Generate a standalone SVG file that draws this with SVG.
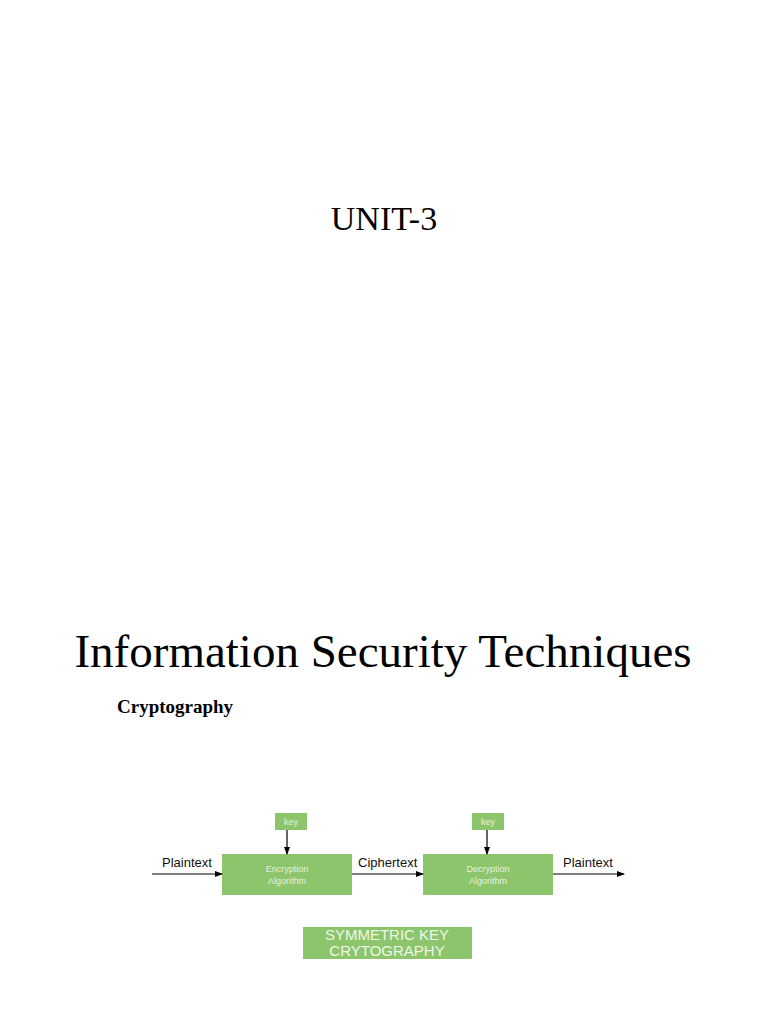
<svg xmlns="http://www.w3.org/2000/svg" width="768" height="1024" viewBox="0 0 768 1024">
<defs>
<marker id="ah" markerWidth="8" markerHeight="8" refX="7" refY="4" orient="auto" markerUnits="userSpaceOnUse">
<path d="M0,1 L8,4 L0,7 Z" fill="#000"/>
</marker>
<style>
.serif{font-family:"Liberation Serif","Times New Roman",serif;fill:#000}
.lbl{font-family:"Liberation Sans",Arial,sans-serif;font-size:13px;fill:#111}
.box{fill:#8cc56c}
.in{font-family:"Liberation Sans",Arial,sans-serif;font-size:9px;fill:#e6f2dc;text-anchor:middle}
.ln{stroke:#000;stroke-width:1.2;fill:none;marker-end:url(#ah)}
</style>
</defs>
<rect width="768" height="1024" fill="#fff"/>
<text class="serif" x="384" y="230" font-size="34" text-anchor="middle">UNIT-3</text>
<text class="serif" x="383" y="667" font-size="47" text-anchor="middle">Information Security Techniques</text>
<text class="serif" x="117" y="713" font-size="19" font-weight="bold">Cryptography</text>
<g id="key1"><rect class="box" x="275" y="813" width="32" height="17"/><text class="in" x="291" y="825">key</text></g>
<g id="key2"><rect class="box" x="472" y="813" width="32" height="17"/><text class="in" x="488" y="825">key</text></g>
<g id="enc"><rect class="box" x="222" y="854" width="130" height="41"/><text class="in" x="287" y="872">Encryption</text><text class="in" x="287" y="884">Algorithm</text></g>
<g id="dec"><rect class="box" x="423" y="854" width="130" height="41"/><text class="in" x="488" y="872">Decryption</text><text class="in" x="488" y="884">Algorithm</text></g>
<g id="sym"><rect class="box" x="303" y="927" width="169" height="32"/><text x="387" y="940" font-family="Liberation Sans,Arial,sans-serif" font-size="15" fill="#eef7e6" text-anchor="middle">SYMMETRIC KEY</text><text x="387" y="956" font-family="Liberation Sans,Arial,sans-serif" font-size="15" fill="#eef7e6" text-anchor="middle">CRYTOGRAPHY</text></g>
<g id="connectors">
<line class="ln" x1="152" y1="874" x2="222" y2="874"/>
<line class="ln" x1="352" y1="874" x2="423" y2="874"/>
<line class="ln" x1="553" y1="874" x2="624" y2="874"/>
<line class="ln" x1="287" y1="830" x2="287" y2="854"/>
<line class="ln" x1="487" y1="830" x2="487" y2="854"/>
</g>
<text class="lbl" x="162" y="867">Plaintext</text>
<text class="lbl" x="358" y="867">Ciphertext</text>
<text class="lbl" x="563" y="867">Plaintext</text>
</svg>
